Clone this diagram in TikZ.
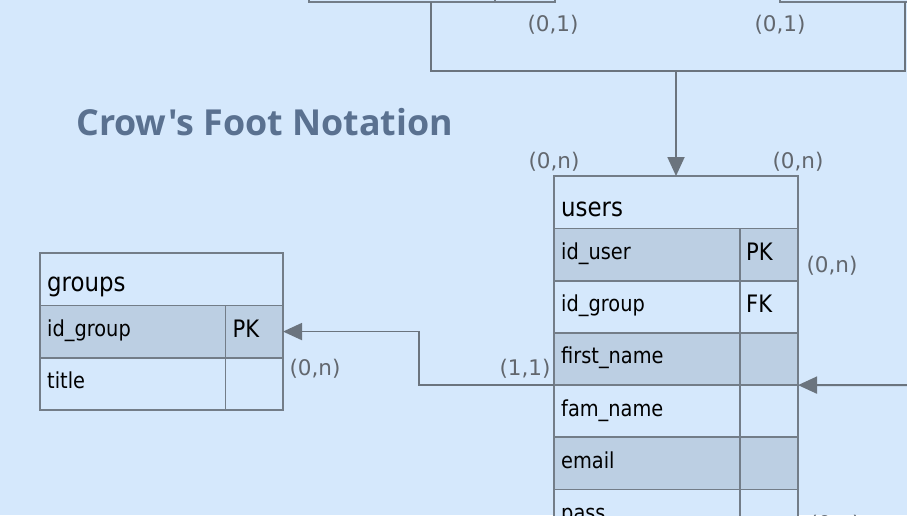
\documentclass[tikz,border=0pt]{standalone}
\usepackage{fontspec}
\setmainfont{DejaVu Sans}
\newfontfamily\condfont{DejaVu Sans}[FakeStretch=0.88]
\newfontfamily\titlefont{Open Sans}
\usetikzlibrary{arrows.meta,calc}
\definecolor{bg}{HTML}{D5E8FC}
\definecolor{shade}{HTML}{BCCFE3}
\definecolor{linec}{HTML}{737D88}
\definecolor{connc}{HTML}{6B747E}
\definecolor{labc}{HTML}{62676E}
\definecolor{titlec}{HTML}{5A7190}
\tikzset{
  cell/.style={draw=linec, line width=1.8pt, rectangle, inner sep=0pt, outer sep=0pt, anchor=north west},
  hdrtxt/.style={inner sep=0pt, anchor=base west, font=\condfont\fontsize{26}{29}\selectfont, text=black},
  rowtxt/.style={inner sep=0pt, anchor=base west, font=\condfont\fontsize{22}{25}\selectfont, text=black},
  keytxt/.style={inner sep=0pt, anchor=base west, font=\condfont\fontsize{24}{27}\selectfont, text=black},
  card/.style={inner sep=0pt, font=\fontsize{21.5}{24}\selectfont, text=labc},
  conn/.style={draw=connc, line width=1.8pt},
  arr/.style={conn, -{Triangle[length=19pt, width=17pt]}},
}
\begin{document}
\begin{tikzpicture}[x=1pt,y=-1pt]
\fill[bg] (0,0) rectangle (907,515);
\useasboundingbox (0,0) rectangle (907,515);
\clip (0,0) rectangle (907,515);

% title
\node[inner sep=0pt, anchor=base west, font=\titlefont\bfseries\fontsize{35.8}{40}\selectfont, text=titlec] (title) at (76,135) {Crow's Foot Notation};

% top tables (only bottom edge visible)
\node[cell, anchor=south west, minimum width=186, minimum height=40] (ta) at (309,2) {};
\node[cell, anchor=south west, minimum width=60, minimum height=40] (tb) at (495,2) {};
\node[cell, anchor=south west, minimum width=160, minimum height=40] (tc) at (780,2) {};

% users table
\node[cell, minimum width=244, minimum height=52.5] (uh) at (554,176) {};
\node[hdrtxt] (uht) at ($(uh.north west)+(7,40)$) {users};
\foreach \i/\y/\f/\t/\k in {1/228.5/shade/id\_user/PK, 2/280.7/bg/id\_group/FK, 3/332.9/shade/first\_name/, 4/385.1/bg/fam\_name/, 5/437.3/shade/email/, 6/489.5/bg/pass/}{
  \node[cell, fill=\f, minimum width=186, minimum height=52.2] (un\i) at (554,\y) {};
  \node[cell, fill=\f, minimum width=58, minimum height=52.2] (uk\i) at (740,\y) {};
  \node[rowtxt] (unt\i) at ($(un\i.north west)+(7,31)$) {\t};
  \node[keytxt] (ukt\i) at ($(uk\i.north west)+(6,32)$) {\k};
}

% groups table
\node[cell, minimum width=243, minimum height=52.5] (gh) at (40,253) {};
\node[hdrtxt] (ght) at ($(gh.north west)+(7,38)$) {groups};
\foreach \i/\y/\f/\t/\k in {1/305.5/shade/id\_group/PK, 2/357.6/bg/title/}{
  \node[cell, fill=\f, minimum width=185.5, minimum height=52.1] (gn\i) at (40,\y) {};
  \node[cell, fill=\f, minimum width=57.5, minimum height=52.1] (gk\i) at (225.5,\y) {};
  \node[rowtxt] (gnt\i) at ($(gn\i.north west)+(7,31)$) {\t};
  \node[keytxt] (gkt\i) at ($(gk\i.north west)+(7,32)$) {\k};
}

% connectors
\coordinate (bus) at (676,71);
\coordinate (ja) at ($(ta.south west)+(122,0)$);
\coordinate (jb) at ($(tc.south west)+(125,0)$);
\draw[conn] (ja) -- (ja |- bus) -- (jb |- bus) -- (jb);
\draw[arr] (bus) -- (uh.north);
\draw[arr] (un3.south west) -- ++(-135,0) |- (gk1.east);
\coordinate (rin) at (915,385.1);
\draw[arr] (rin) -- (uk3.south east);

% cardinalities
\node[card] (c1) at (553,25) {(0,1)};
\node[card] (c2) at (780,25) {(0,1)};
\node[card] (c3) at (554,162) {(0,n)};
\node[card] (c4) at (798,162) {(0,n)};
\node[card] (c5) at (832,266) {(0,n)};
\node[card] (c6) at (315,369) {(0,n)};
\node[card] (c7) at (525,369) {(1,1)};
\node[card] (c8) at (835,525) {(0,n)};
\end{tikzpicture}
\end{document}
